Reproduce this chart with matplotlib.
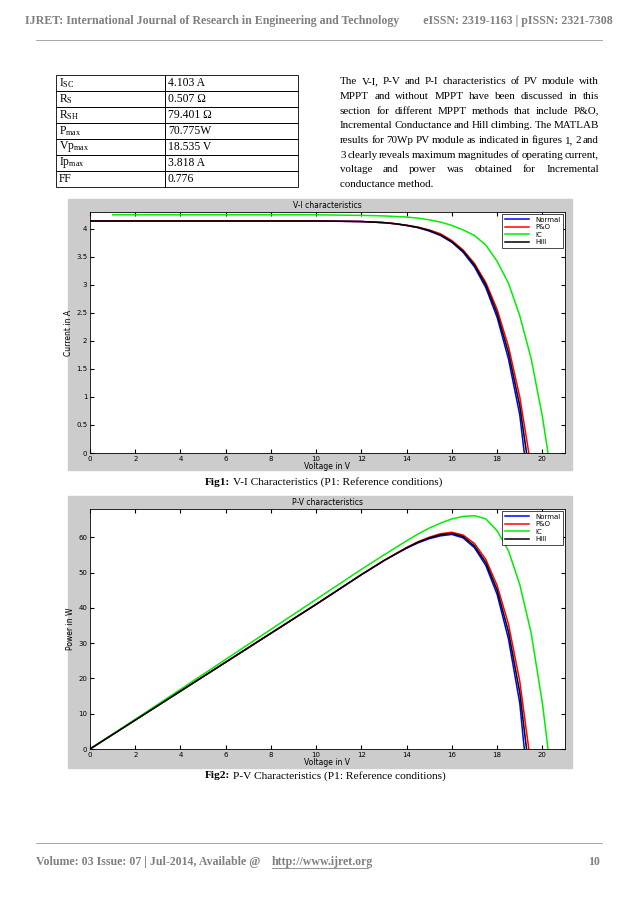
import matplotlib
matplotlib.use("Agg")
import matplotlib.pyplot as plt
from matplotlib.patches import Rectangle

W, H = 638, 902
# ---- data ----
series = ["Normal", "P&O", "IC", "Hill"]
colors = ["#0000ff", "#ff0000", "#00ee00", "#000000"]
vb = [0, 10, 12, 13, 13.5, 14, 14.5, 15, 15.5, 16, 16.5, 17, 17.5, 18, 18.5, 19]
vi_v = {
    "Normal": vb + [19.2],
    "P&O":    vb + [19.4],
    "Hill":   vb + [19.3],
    "IC":     [1, 10, 12, 13, 14, 14.5, 15, 15.5, 16, 16.5, 17, 17.5, 18, 18.5, 19, 19.5, 20, 20.25],
}
vi_i = {
    "Normal": [4.14, 4.14, 4.13, 4.11, 4.09, 4.06, 4.02, 3.96, 3.88, 3.76, 3.58, 3.32, 2.95, 2.42, 1.68, 0.68, 0],
    "P&O":    [4.14, 4.14, 4.13, 4.11, 4.09, 4.065, 4.03, 3.98, 3.91, 3.79, 3.62, 3.38, 3.04, 2.56, 1.90, 1.00, 0],
    "Hill":   [4.14, 4.14, 4.13, 4.11, 4.09, 4.06, 4.025, 3.97, 3.89, 3.77, 3.60, 3.35, 3.00, 2.49, 1.79, 0.84, 0],
    "IC":     [4.25, 4.25, 4.24, 4.23, 4.21, 4.19, 4.16, 4.12, 4.06, 3.98, 3.88, 3.71, 3.42, 3.03, 2.45, 1.69, 0.65, 0],
}
pb = [0, 2, 4, 6, 8, 10, 12, 13, 13.5, 14, 14.5, 15, 15.5, 16, 16.5, 17, 17.5, 18, 18.5, 19]
pv_v = {
    "Normal": pb + [19.2],
    "P&O":    pb + [19.4],
    "Hill":   pb + [19.3],
    "IC":     [0, 2, 4, 6, 8, 10, 12, 13, 14, 14.5, 15, 15.5, 16, 16.5, 17, 17.5, 18, 18.5, 19, 19.5, 20, 20.25],
}
pv_p = {
    "Normal": [0, 8.2, 16.4, 24.6, 32.8, 41.0, 49.4, 53.4, 55.2, 56.9, 58.4, 59.6, 60.4, 60.8, 59.8, 57.0, 52.0, 43.8, 31.2, 13.0, 0],
    "P&O":    [0, 8.2, 16.4, 24.6, 32.8, 41.0, 49.4, 53.4, 55.3, 57.1, 58.7, 60.0, 61.0, 61.4, 60.6, 58.2, 53.7, 46.3, 35.4, 19.2, 0],
    "Hill":   [0, 8.2, 16.4, 24.6, 32.8, 41.0, 49.4, 53.4, 55.2, 57.0, 58.6, 59.8, 60.7, 61.1, 60.2, 57.5, 52.8, 45.0, 33.2, 16.0, 0],
    "IC":     [0, 8.4, 16.9, 25.4, 33.9, 42.4, 50.9, 55.0, 59.0, 60.9, 62.6, 64.0, 65.2, 65.9, 66.1, 65.2, 61.8, 56.2, 46.6, 33.0, 13.0, 0],
}
table_rows = [("I$_{SC}$", "4.103 A"), ("R$_S$", "0.507 Ω"), ("R$_{SH}$", "79.401 Ω"),
              ("P$_{max}$", "70.775W"), ("Vp$_{max}$", "18.535 V"), ("Ip$_{max}$", "3.818 A"), ("FF", "0.776")]

plt.rcParams["mathtext.fontset"] = "custom"
plt.rcParams["mathtext.rm"] = "Liberation Serif"
plt.rcParams["mathtext.it"] = "Liberation Serif"
fig = plt.figure(figsize=(W/100, H/100), dpi=100)
def fx(x): return x / W
def fy(y): return 1 - y / H
serif = "Liberation Serif"
grey = "#808080"

fig.text(fx(319), fy(21), "IJRET: International Journal of Research in Engineering and Technology        eISSN: 2319-1163 | pISSN: 2321-7308",
         ha="center", va="center", family=serif, weight="bold", color=grey, fontsize=8.6)
fig.add_artist(plt.Line2D([fx(36), fx(602)], [fy(40), fy(40)], color="#999999", lw=0.6))
fig.add_artist(plt.Line2D([fx(36), fx(602)], [fy(843), fy(843)], color="#999999", lw=0.6))
fig.text(fx(36), fy(862), "Volume: 03 Issue: 07 | Jul-2014, Available @ ", ha="left", va="center",
         family=serif, weight="bold", color=grey, fontsize=8.6)
fig.text(fx(272), fy(862), "http://www.ijret.org", ha="left", va="center",
         family=serif, weight="bold", color=grey, fontsize=8.6)
fig.add_artist(plt.Line2D([fx(272), fx(368)], [fy(868), fy(868)], color=grey, lw=0.6))
fig.text(fx(600), fy(862), "10", ha="right", va="center", family=serif, weight="bold", color=grey, fontsize=8.6)

# table
t0, rh = 75, 16
for k, (a, b) in enumerate(table_rows):
    y0 = t0 + k * rh
    fig.add_artist(Rectangle((fx(56), fy(y0 + rh)), fx(109), rh / H, fill=False, lw=0.6, transform=fig.transFigure))
    fig.add_artist(Rectangle((fx(165), fy(y0 + rh)), fx(133), rh / H, fill=False, lw=0.6, transform=fig.transFigure))
    fig.text(fx(59), fy(y0 + rh / 2), a, va="center", family=serif, fontsize=8.4)
    fig.text(fx(168), fy(y0 + rh / 2), b, va="center", family=serif, fontsize=8.4)

para = ["The V-I, P-V and P-I characteristics of PV module with",
        "MPPT and without MPPT have been discussed in this",
        "section for different MPPT methods that include P&O,",
        "Incremental Conductance and Hill climbing. The MATLAB",
        "results for 70Wp PV module as indicated in figures 1, 2 and",
        "3 clearly reveals maximum magnitudes of operating current,",
        "voltage and power was obtained for Incremental",
        "conductance method."]
x0, x1 = 340, 599
fs = 7.9
r = fig.canvas.get_renderer()
for k, ln in enumerate(para):
    y = fy(82 + k * 14.6)
    words = ln.split(" ")
    if k == len(para) - 1:
        fig.text(fx(x0), y, ln, va="center", family=serif, fontsize=fs)
        continue
    ts = [fig.text(0, y, w, va="center", family=serif, fontsize=fs) for w in words]
    widths = [tt.get_window_extent(r).width for tt in ts]
    gap = (x1 - x0 - sum(widths)) / (len(words) - 1)
    x = x0
    for tt, wd in zip(ts, widths):
        tt.set_x(fx(x)); x += wd + gap

def panel(gy0, gy1, ay0, ay1, xs, ys, ttl, ylab, yt, ylim, lab, cap, capy):
    fig.add_artist(Rectangle((fx(68), fy(gy1)), fx(504), (gy1 - gy0) / H, color="#cccccc",
                             transform=fig.transFigure, zorder=0))
    ax = fig.add_axes([fx(90), fy(ay1), fx(475), (ay1 - ay0) / H])
    for s, c in zip(series, colors):
        ax.plot(xs[s], ys[s], color=c, lw=1.1, label=s)
    ax.set_xlim(0, 21); ax.set_ylim(*ylim)
    ax.set_xticks(range(0, 21, 2)); ax.set_yticks(yt)
    ax.set_yticklabels([("%g" % v) for v in yt])
    ax.tick_params(direction="in", labelsize=5, length=3, top=True, right=True, pad=2)
    ax.set_title(ttl, fontsize=5.5, pad=3)
    ax.set_xlabel("Voltage in V", fontsize=5.5, labelpad=0)
    ax.set_ylabel(ylab, fontsize=5.5, labelpad=2)
    for sp in ax.spines.values(): sp.set_linewidth(0.6)
    lg = ax.legend(loc="upper right", fontsize=5, fancybox=False, framealpha=1, edgecolor="black",
                   handlelength=3.5, borderaxespad=0.3, labelspacing=0.2)
    lg.get_frame().set_linewidth(0.5)
    a = fig.text(fx(205), fy(capy), lab, ha="left", va="center", family=serif, weight="bold", fontsize=8.2)
    wa = a.get_window_extent(r).width
    fig.text(fx(205 + wa + 3), fy(capy), cap, ha="left", va="center", family=serif, fontsize=8.2)

panel(199, 470, 212, 453, vi_v, vi_i, "V-I characteristics", "Current in A",
      [0, 0.5, 1, 1.5, 2, 2.5, 3, 3.5, 4], (0, 4.3),
      "Fig1:", "V-I Characteristics (P1: Reference conditions)", 482)
panel(496, 768, 509, 749, pv_v, pv_p, "P-V characteristics", "Power in W",
      [0, 10, 20, 30, 40, 50, 60], (0, 68),
      "Fig2:", "P-V Characteristics (P1: Reference conditions)", 776)

fig.savefig("out.png", dpi=100)
